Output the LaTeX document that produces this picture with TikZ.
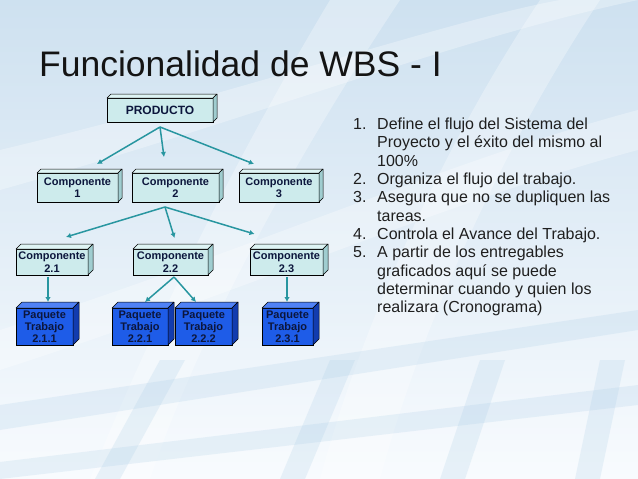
\documentclass[tikz,border=0pt]{standalone}
\usepackage{fontspec}
\setmainfont{Liberation Sans}
\usetikzlibrary{arrows.meta,calc}
\definecolor{bgtop}{RGB}{206,225,240}
\definecolor{bgmid}{RGB}{192,217,235}
\definecolor{bgbot}{RGB}{248,251,254}
\definecolor{band}{RGB}{170,205,230}
\definecolor{teal}{RGB}{40,150,160}
\definecolor{compfill}{RGB}{205,235,236}
\definecolor{comptop}{RGB}{222,244,244}
\definecolor{compside}{RGB}{160,205,208}
\definecolor{pkgfill}{RGB}{30,92,232}
\definecolor{pkgtop}{RGB}{80,130,245}
\definecolor{pkgside}{RGB}{18,60,175}
\definecolor{navy}{RGB}{12,22,60}
\newcommand\threedfaces[4]{%
  \filldraw[fill=#3,draw=black,line width=0.5pt,line join=round]
    (#1.north west) -- ++(#2,-#2) -- ($(#1.north east)+(#2,-#2)$) -- (#1.north east) -- cycle;
  \filldraw[fill=#4,draw=black,line width=0.5pt,line join=round]
    (#1.north east) -- ++(#2,-#2) -- ($(#1.south east)+(#2,-#2)$) -- (#1.south east) -- cycle;
}
\tikzset{
  wbs/.style={draw=black,line width=0.6pt,inner sep=0pt,outer sep=0pt,align=center,text=navy},
  comp/.style={wbs,fill=compfill,font=\bfseries\fontsize{11}{12.5}\selectfont},
  pkg/.style={wbs,fill=pkgfill,font=\bfseries\fontsize{11}{12}\selectfont},
  arr/.style={draw=teal,line width=1.5pt,-{Latex[length=5pt,width=5.5pt]}},
}
\begin{document}
\begin{tikzpicture}[x=1pt,y=-1pt]
\useasboundingbox (0,0) rectangle (638,479);
% background
\shade[top color=bgtop,middle color=bgmid,bottom color=bgbot] (0,0) rectangle (638,479);
\begin{scope}[opacity=0.3]
  \fill[white] (0,150) .. controls (250,90) and (450,20) .. (560,0) -- (638,0)
     .. controls (450,40) and (250,120) .. (0,190) -- cycle;
  \fill[white] (0,330) .. controls (250,250) and (450,160) .. (638,110) -- (638,150)
     .. controls (450,200) and (250,290) .. (0,370) -- cycle;
  \fill[white] (330,0) -- (400,0) .. controls (300,150) and (200,330) .. (150,479) -- (90,479)
     .. controls (150,330) and (240,150) .. cycle;
  \fill[white] (540,0) -- (600,0) .. controls (500,150) and (420,330) .. (380,479) -- (320,479)
     .. controls (360,330) and (440,150) .. cycle;
\end{scope}
\begin{scope}[opacity=0.22]
  \fill[band] (0,405) -- (638,310) -- (638,330) -- (0,430) -- cycle;
  \fill[band] (0,462) -- (638,385) -- (638,405) -- (0,479) -- cycle;
  \fill[band] (160,360) -- (185,360) -- (120,479) -- (95,479) -- cycle;
  \fill[band] (330,360) -- (355,360) -- (305,479) -- (280,479) -- cycle;
  \fill[band] (480,360) -- (505,360) -- (465,479) -- (440,479) -- cycle;
  \fill[band] (600,360) -- (625,360) -- (600,479) -- (575,479) -- cycle;
\end{scope}
% title
\node[anchor=base west,inner sep=0pt,text=black!92,font=\fontsize{35.5}{40}\selectfont]
  (title) at (39,76) {Funcionalidad de WBS - I};
% boxes
\node[comp,minimum width=106,minimum height=24,font=\bfseries\fontsize{12}{13}\selectfont] (prod) at (160,110) {PRODUCTO};
\node[comp,minimum width=81,minimum height=29] (c1) at (77.5,187.5) {Componente\\1};
\node[comp,minimum width=87,minimum height=29] (c2) at (175.5,187.5) {Componente\\2};
\node[comp,minimum width=80,minimum height=29] (c3) at (279,187.5) {Componente\\3};
\node[comp,minimum width=72,minimum height=26] (c21) at (52,262) {Componente\\2.1};
\node[comp,minimum width=75,minimum height=26] (c22) at (170.5,262) {Componente\\2.2};
\node[comp,minimum width=73,minimum height=26] (c23) at (286.5,262) {Componente\\2.3};
\node[pkg,minimum width=57,minimum height=37] (p211) at (44.5,326.5) {Paquete\\Trabajo\\2.1.1};
\node[pkg,minimum width=56,minimum height=37] (p221) at (140,326.5) {Paquete\\Trabajo\\2.2.1};
\node[pkg,minimum width=57,minimum height=37] (p222) at (203.5,326.5) {Paquete\\Trabajo\\2.2.2};
\node[pkg,minimum width=51,minimum height=37] (p231) at (287.5,326.5) {Paquete\\Trabajo\\2.3.1};
\threedfaces{prod}{4}{comptop}{compside}
\threedfaces{c1}{4}{comptop}{compside}
\threedfaces{c2}{4}{comptop}{compside}
\threedfaces{c3}{4}{comptop}{compside}
\threedfaces{c21}{5}{comptop}{compside}
\threedfaces{c22}{5}{comptop}{compside}
\threedfaces{c23}{5}{comptop}{compside}
\threedfaces{p211}{6}{pkgtop}{pkgside}
\threedfaces{p221}{6}{pkgtop}{pkgside}
\threedfaces{p222}{6}{pkgtop}{pkgside}
\threedfaces{p231}{6}{pkgtop}{pkgside}
% connectors
\coordinate (s0) at ($(prod.south)+(0,5)$);
\draw[arr] (s0) -- ($(c1.north)+(19.5,-9)$);
\draw[arr] (s0) -- ($(c2.north)+(-11.5,-16)$);
\draw[arr] (s0) -- ($(c3.north)+(-25,-9)$);
\coordinate (s1) at ($(c2.south)+(-10.5,5)$);
\draw[arr] (s1) -- ($(c21.north)+(14,-12)$);
\draw[arr] (s1) -- ($(c22.north)+(4,-11)$);
\draw[arr] (s1) -- ($(c23.north)+(-32,-15)$);
\draw[arr] ($(c21.south)+(-4,2)$) -- ($(p211.north)+(3.5,-6)$);
\coordinate (s2) at ($(c22.south)+(3.5,2)$);
\draw[arr] (s2) -- ($(p221.north)+(5,-6)$);
\draw[arr] (s2) -- ($(p222.north)+(-7.5,-6)$);
\draw[arr] ($(c23.south)+(0.5,2)$) -- ($(p231.north)+(-0.5,-6)$);
% list
\node[anchor=north west,inner sep=0pt,align=left,text=black!88,
  font=\fontsize{16}{18.35}\selectfont] (list) at (353,117.6) {%
\makebox[24pt][l]{1.}Define el flujo del Sistema del\\
\hspace*{24pt}Proyecto y el éxito del mismo al\\
\hspace*{24pt}100\%\\
\makebox[24pt][l]{2.}Organiza el flujo del trabajo.\\
\makebox[24pt][l]{3.}Asegura que no se dupliquen las\\
\hspace*{24pt}tareas.\\
\makebox[24pt][l]{4.}Controla el Avance del Trabajo.\\
\makebox[24pt][l]{5.}A partir de los entregables\\
\hspace*{24pt}graficados aquí se puede\\
\hspace*{24pt}determinar cuando y quien los\\
\hspace*{24pt}realizara (Cronograma)};
\end{tikzpicture}
\end{document}
